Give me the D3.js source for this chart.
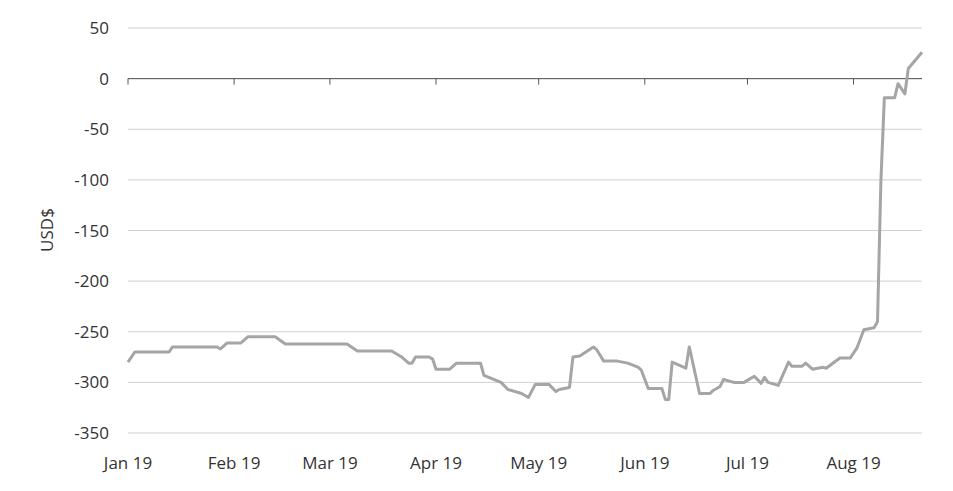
<!DOCTYPE html><html><head><meta charset="utf-8"><script src="https://cdn.jsdelivr.net/npm/d3@7"></script>
<style>body{margin:0;background:#fff}text{font-family:"Open Sans",Lato,sans-serif;fill:#333}</style></head><body><svg id="c" width="953" height="491"></svg>
<script>
const dayOffsets=[0,2,12,13,26,27,29,33,35,43,46,64,67,77,80,82,83,84,88,89,90,94,96,103,104,109,111,115,117,119,123,125,126,129,130,132,136,137,139,143,146,149,150,152,156,157,158,159,163,164,167,170,171,173,174,177,180,183,185,186,187,190,193,194,197,198,200,203,204,208,211,213,215,218,219,220,221,224,225,227,228,232];
const values=[-280,-270,-270,-265,-265,-267,-261,-261,-255,-255,-262,-262,-269,-269,-275,-281,-281,-275,-275,-277,-287,-287,-281,-281,-293,-300,-307,-311,-315,-302,-302,-309,-307,-305,-275,-274,-265,-268,-279,-279,-281,-285,-288,-306,-306,-317,-317,-280,-286,-265,-311,-311,-308,-304,-297,-300,-300,-294,-301,-295,-300,-303,-280,-284,-284,-281,-287,-285,-286,-276,-276,-266,-248,-246,-240,-100,-19,-19,-5,-15,10,26];
const yTicks=[50,0,-50,-100,-150,-200,-250,-300,-350];
const monthLabels=["Jan 19","Feb 19","Mar 19","Apr 19","May 19","Jun 19","Jul 19","Aug 19"];
const start=new Date(2019,0,1);
const data=dayOffsets.map((d,i)=>({date:d3.timeDay.offset(start,d),v:values[i]}));
const svg=d3.select("#c");
const x=d3.scaleTime().domain([start,d3.timeDay.offset(start,232)]).range([128,922]);
const y=d3.scaleLinear().domain([-350,50]).range([433,28]);
svg.append("g").selectAll("line").data(yTicks).join("line").attr("x1",128).attr("x2",922)
 .attr("y1",d=>y(d)).attr("y2",d=>y(d)).attr("stroke","#d0d0d0").attr("stroke-width",1);
svg.append("g").selectAll("text").data(yTicks).join("text").attr("x",109).attr("y",d=>y(d)+6)
 .attr("text-anchor","end").attr("font-size",17).text(d=>d);
svg.append("line").attr("x1",128).attr("x2",922).attr("y1",y(0)).attr("y2",y(0)).attr("stroke","#555");
const months=monthLabels.map((m,i)=>new Date(2019,i,1));
svg.append("g").selectAll("line").data(months).join("line").attr("x1",d=>x(d)).attr("x2",d=>x(d))
 .attr("y1",y(0)).attr("y2",y(0)+6).attr("stroke","#555");
svg.append("g").selectAll("text").data(months).join("text").attr("x",d=>x(d)).attr("y",469)
 .attr("text-anchor","middle").attr("font-size",17).text((d,i)=>monthLabels[i]);
svg.append("text").attr("transform","translate(53,230) rotate(-90)").attr("text-anchor","middle").attr("font-size",17).text("USD$");
svg.append("path").datum(data).attr("fill","none").attr("stroke","#a5a5a5").attr("stroke-width",3).attr("stroke-linejoin","round")
 .attr("d",d3.line().x(d=>x(d.date)).y(d=>y(d.v)));
</script></body></html>
